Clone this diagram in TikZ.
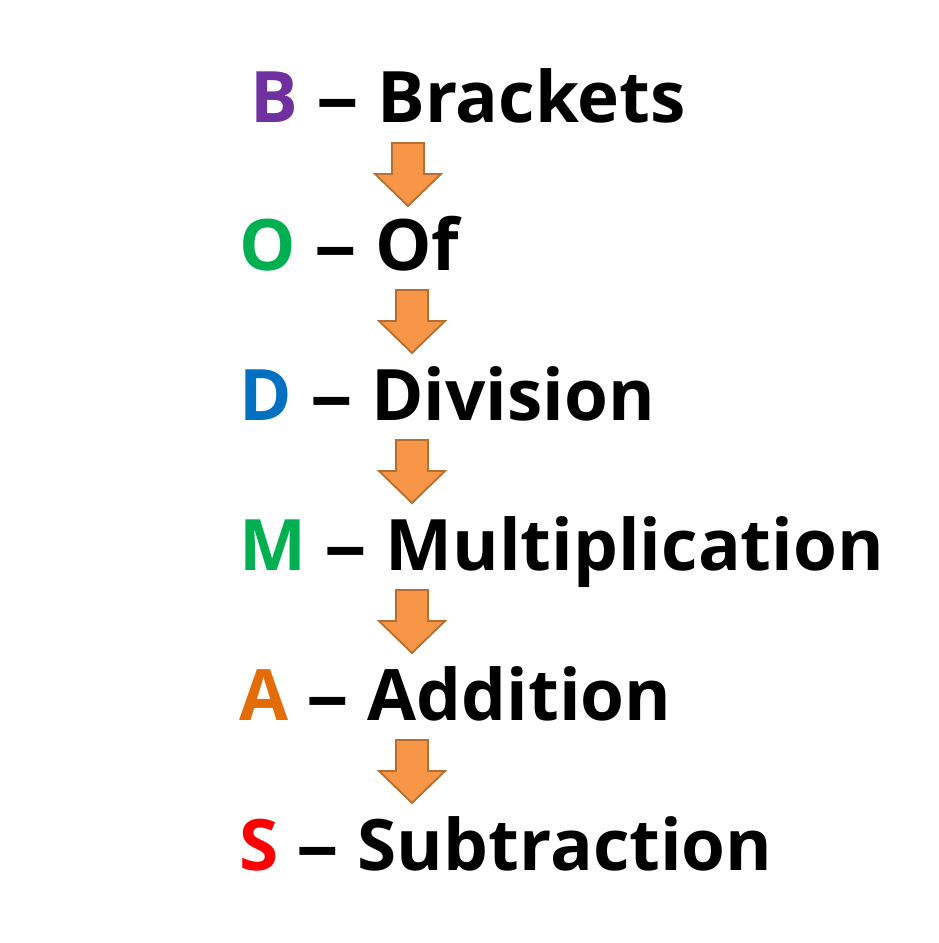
\documentclass[tikz,border=0pt]{standalone}
\usepackage{fontspec}
\setmainfont{Open Sans}
\usepackage{tikz}

\definecolor{bcol}{HTML}{7030A0}
\definecolor{ocol}{HTML}{00B050}
\definecolor{dcol}{HTML}{0070C0}
\definecolor{acol}{HTML}{E36C09}
\definecolor{scol}{HTML}{FF0000}
\definecolor{arrfill}{HTML}{F79646}
\definecolor{arrline}{HTML}{B66D31}

\newcommand{\sep}{\ \scalebox{1.2}[1]{--}\ }

\tikzset{
  word/.style={anchor=base west, inner sep=0pt, font=\fontsize{71}{85}\selectfont\bfseries},
  blockarrow/.style={fill=arrfill, draw=arrline, line width=1.8pt, line join=miter}
}

\begin{document}
\begin{tikzpicture}[x=1pt,y=-1pt]
      \useasboundingbox (0,0) rectangle (938,943);
      \fill[white] (0,0) rectangle (938,943);
      \node[word] (b) at (250,122) {\textcolor{bcol}{B}\sep Brackets};
      \node[word] (o) at (239,270) {\textcolor{ocol}{O}\sep Of};
      \node[word] (d) at (239,420) {\textcolor{dcol}{D}\sep Division};
      \node[word] (m) at (239,570) {\textcolor{ocol}{M}\sep Multiplication};
      \node[word] (a) at (239,720) {\textcolor{acol}{A}\sep Addition};
      \node[word] (s) at (239,870) {\textcolor{scol}{S}\sep Subtraction};
      \foreach \x/\t in {408/143,412/290,412/440,412/590,412/740} {
        \draw[blockarrow] (\x-16,\t) -- (\x+16,\t) -- (\x+16,\t+31) -- (\x+33,\t+31)
          -- (\x,\t+63) -- (\x-33,\t+31) -- (\x-16,\t+31) -- cycle;
      }
    \end{tikzpicture}
\end{document}
